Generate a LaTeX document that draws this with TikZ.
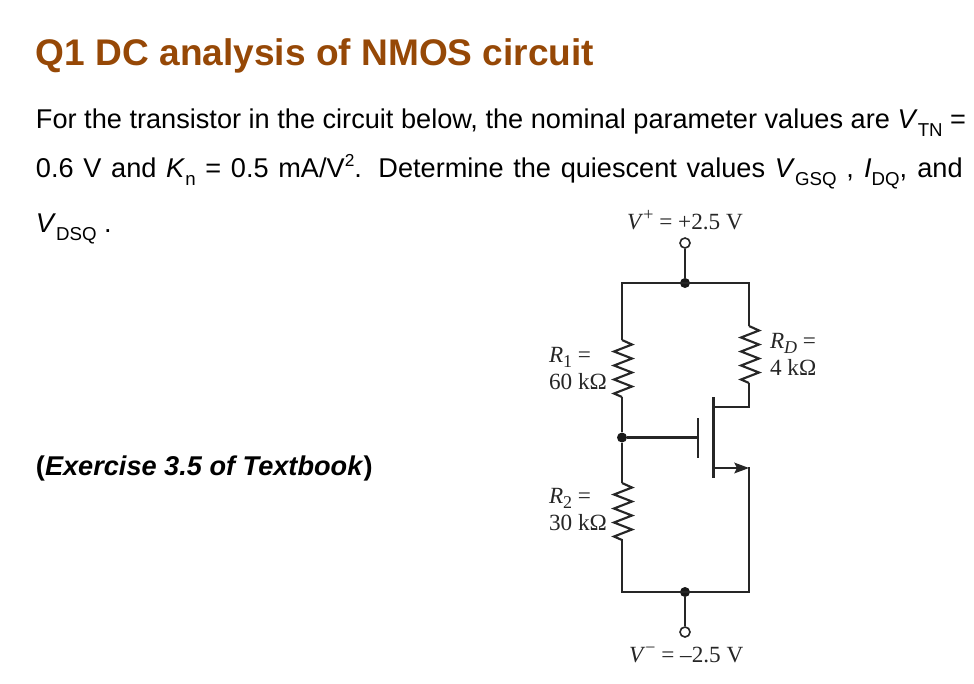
\documentclass[tikz,border=0pt]{standalone}
\usepackage{fontspec}
\setmainfont{Liberation Sans}
\newfontfamily\cserif{Liberation Serif}
\usetikzlibrary{arrows.meta}
\definecolor{titlecol}{HTML}{964806}
\definecolor{wirecol}{HTML}{262626}
\newcommand{\sbs}[1]{\raisebox{-0.32em}{\fontsize{14}{14}\selectfont #1}}
\tikzset{
 txt/.style={anchor=base west,inner sep=0pt,outer sep=0pt,text=black,font=\fontsize{20.36}{22}\selectfont},
 titletxt/.style={anchor=base west,inner sep=0pt,outer sep=0pt,text=titlecol,font=\bfseries\fontsize{27.8}{30}\selectfont},
 ctxt/.style={anchor=base west,inner sep=0pt,outer sep=0pt,text=wirecol,font=\cserif\fontsize{17.4}{20}\selectfont},
 wire/.style={draw=wirecol,line width=1.6pt,line join=miter},
 dotn/.style={circle,fill=black!90,draw=none,minimum size=7.5pt,inner sep=0pt},
 term/.style={circle,fill=white,draw=wirecol,line width=1.2pt,minimum size=7.5pt,inner sep=0pt}
}
\newcommand{\rz}[2]{% zigzag between nodes
 \draw[wire] (#1) -- ++(10,4.5) -- ++(-18,7) -- ++(18,7) -- ++(-18,7) -- ++(18,7) -- ++(-18,7) -- ++(18,7) -- ++(-18,7) -- (#2);}
\begin{document}
\begin{tikzpicture}[x=0.75pt,y=-0.75pt]
\useasboundingbox (0,0) rectangle (974,683);
\fill[white] (0,0) rectangle (974,683);
% text
\node[titletxt] (title) at (36,65) {Q1 DC analysis of NMOS circuit};
\node[txt] (l1) at (36,128) {For the transistor in the circuit below, the nominal parameter values are \textit{V}\sbs{TN} =};
\node[txt] (l2) at (36,177) {\hbox to 695pt{0.6 V and \textit{K}\sbs{n} = 0.5 mA/V\raisebox{0.38em}{\fontsize{13}{13}\selectfont 2}. Determine the quiescent values \textit{V}\sbs{GSQ} , \textit{I}\sbs{DQ}, and}};
\node[txt] (l3) at (36,232) {\textit{V}\sbs{DSQ} .};
\node[txt,font=\bfseries\fontsize{20.36}{22}\selectfont] (ex) at (36,475) {(\textit{Exercise 3.5 of Textbook})};
% circuit points
\node[term] (tt) at (685,243) {};
\node[dotn] (jt) at (685,283) {};
\coordinate (tl) at (622,283);
\coordinate (tr) at (749,283);
\coordinate (r1t) at (622,340);
\coordinate (r1b) at (622,397);
\coordinate (rdt) at (749,326);
\coordinate (rdb) at (749,383);
\coordinate (dr) at (749,407);
\coordinate (chd) at (713.5,407);
\coordinate (chs) at (713.5,468);
\coordinate (chtop) at (713.5,397);
\coordinate (chbot) at (713.5,478);
\node[dotn] (jg) at (622,437.5) {};
\coordinate (gp) at (698,437.5);
\coordinate (gt) at (698,418);
\coordinate (gb) at (698,458);
\coordinate (sr) at (749,468);
\coordinate (r2t) at (622,483);
\coordinate (r2b) at (622,540);
\coordinate (bl) at (622,592);
\coordinate (br) at (749,592);
\node[dotn] (jb) at (685,592) {};
\node[term] (tb) at (685,632) {};
% wires
\draw[wire] (tt) -- (jt);
\draw[wire] (r1t) -- (tl) -- (tr) -- (rdt);
\rz{r1t}{r1b}
\rz{rdt}{rdb}
\rz{r2t}{r2b}
\draw[wire] (r1b) -- (jg) -- (r2t);
\draw[wire] (rdb) -- (dr) -- (chd);
\draw[wire] (jg) -- (gp);
\draw[wire] (gt) -- (gb);
\draw[wire] (chtop) -- (chbot);
\draw[wire,-{Stealth[length=11pt,width=8pt,inset=2pt]}] (chs) -- (sr);
\draw[wire,line cap=rect] (sr) -- (br) -- (bl) -- (r2b);
\draw[wire] (jb) -- (tb);
% labels
\node[ctxt] (vp) at (627,229) {\textit{V}\raisebox{0.35em}{\fontsize{13.5}{13.5}\selectfont +} = +2.5 V};
\node[ctxt] (r1a) at (549,362) {\textit{R}\raisebox{-0.25em}{\fontsize{13.5}{13.5}\selectfont 1} =};
\node[ctxt] (r1v) at (549,389) {60 kΩ};
\node[ctxt] (rda) at (770,348) {\textit{R}\raisebox{-0.25em}{\fontsize{13.5}{13.5}\selectfont\textit{D}} =};
\node[ctxt] (rdv) at (770,375) {4 kΩ};
\node[ctxt] (r2a) at (549,503) {\textit{R}\raisebox{-0.25em}{\fontsize{13.5}{13.5}\selectfont 2} =};
\node[ctxt] (r2v) at (549,530) {30 kΩ};
\node[ctxt] (vm) at (629,662) {\textit{V}\raisebox{0.35em}{\fontsize{13.5}{13.5}\selectfont −} = –2.5 V};
\end{tikzpicture}
\end{document}
